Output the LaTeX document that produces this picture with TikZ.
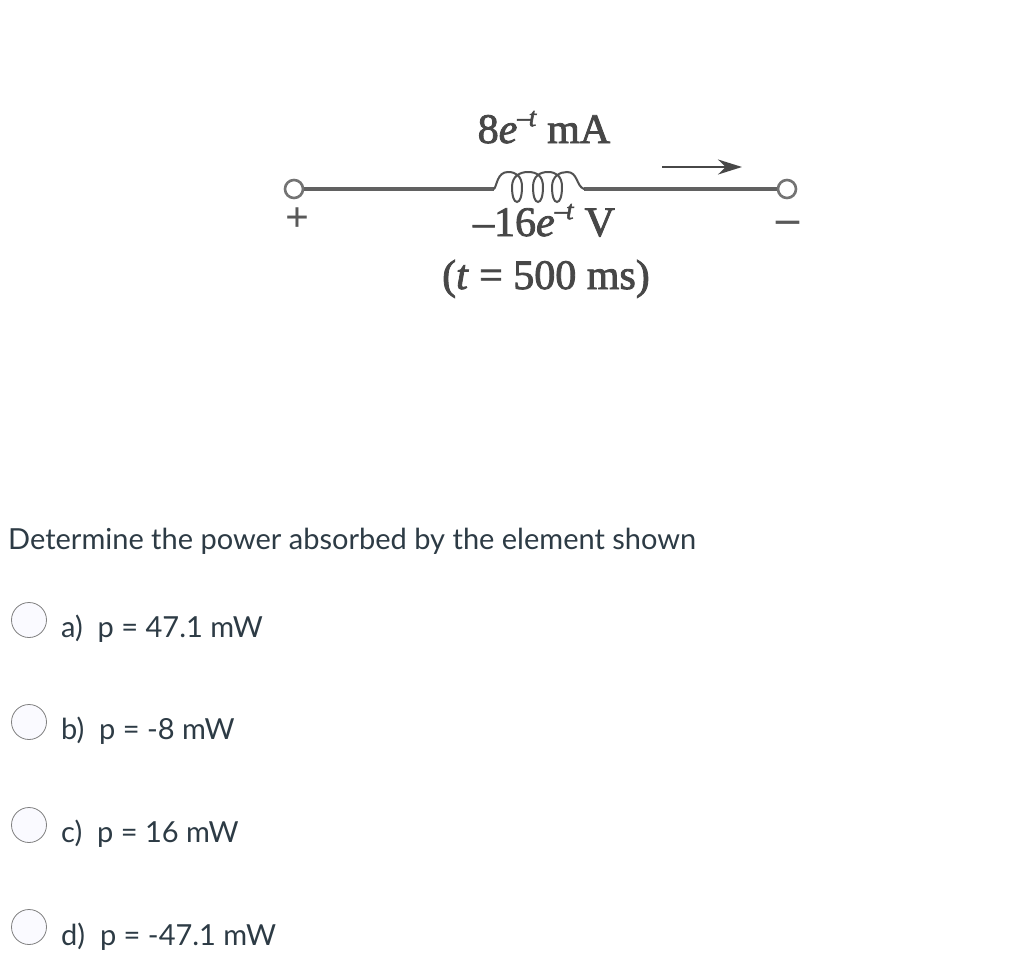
\documentclass[tikz,border=0pt]{standalone}
\usepackage{fontspec}
\setmainfont{Lato}
\newfontfamily\serifc[FakeBold=2]{Liberation Serif}
\newfontfamily\serifb{Liberation Serif Bold}
\usetikzlibrary{arrows.meta}
\definecolor{txt}{HTML}{2D3B45}
\newcommand{\supt}{\raisebox{.4em}{\fontsize{27}{27}\selectfont –\kern-.08em\textit{t}}}
\tikzset{
  ckt/.style={font=\serifc\fontsize{42}{42}\selectfont,text=black!72,inner sep=0pt,anchor=base},
  sign/.style={font=\serifb\fontsize{42}{42}\selectfont,text=black!65,inner sep=0pt,anchor=base},
  term/.style={circle,draw=black!55,line width=2.6pt,minimum size=18pt,inner sep=0pt,fill=white},
  wire/.style={draw=black!62,line width=4.2pt},
  coil/.style={draw=black!68,line width=2pt,line cap=round},
  radio/.style={circle,draw=black!50,line width=.8pt,fill=blue!2,minimum size=35pt,inner sep=0pt},
  qtext/.style={font=\fontsize{29}{29}\selectfont,text=txt,inner sep=0pt,anchor=base west},
}
\begin{document}
\begin{tikzpicture}[x=1pt,y=-1pt]
\useasboundingbox (0,0) rectangle (1018,972);
\fill[white] (0,0) rectangle (1018,972);
\node[ckt] (itop) at (544,143) {8\textit{e}\supt{} mA};
\node[ckt] (vbot) at (544,236) {–16\textit{e}\supt{} V};
\node[ckt] (tval) at (546,289) {(\textit{t} = 500 ms)};
\coordinate (cl) at (494,189);
\coordinate (cr) at (584,189);
\node[term] (tl) at (294,189) {};
\node[term] (tr) at (787,189) {};
\draw[wire] (tl) -- (cl);
\draw[wire] (cr) -- (tr);
\draw[coil] (cl) .. controls (497,186) and (497,172) .. (508,172)
  .. controls (516,172) and (522,176) .. (522,187)
  .. controls (522,196) and (520,202) .. (517,202)
  .. controls (514,202) and (512,196) .. (512,187)
  .. controls (512,176) and (520,172) .. (528,172)
  .. controls (537,172) and (543,176) .. (543,187)
  .. controls (543,196) and (541,202) .. (538,202)
  .. controls (535,202) and (533,196) .. (533,187)
  .. controls (533,176) and (540,172) .. (548,172)
  .. controls (556,172) and (562,176) .. (562,187)
  .. controls (562,196) and (560,202) .. (557,202)
  .. controls (554,202) and (552,196) .. (552,187)
  .. controls (552,176) and (560,172) .. (567,172)
  .. controls (578,172) and (576,186) .. (cr);
\coordinate (as) at (662,167);
\coordinate (ae) at (742,167);
\draw[draw=black!72,line width=2.2pt,-{Stealth[length=24pt,width=15pt]}] (as) -- (ae);
\node[sign] (plus) at (297,231) {+};
\node[sign,font=\serifb\fontsize{46}{46}\selectfont] (minus) at (788,233) {–};
\node[qtext] (q) at (8,549) {Determine the power absorbed by the element shown};
\node[radio] (ra) at (29,620) {};
\node[radio] (rb) at (29,722) {};
\node[radio] (rc) at (29,825) {};
\node[radio] (rd) at (29,927) {};
\node[qtext] (a) at (61,637) {a)\ \ p = 47.1 mW};
\node[qtext] (b) at (61,739) {b)\ \ p = -8 mW};
\node[qtext] (c) at (61,842) {c)\ \ p = 16 mW};
\node[qtext] (d) at (61,945) {d)\ \ p = -47.1 mW};
\end{tikzpicture}
\end{document}
